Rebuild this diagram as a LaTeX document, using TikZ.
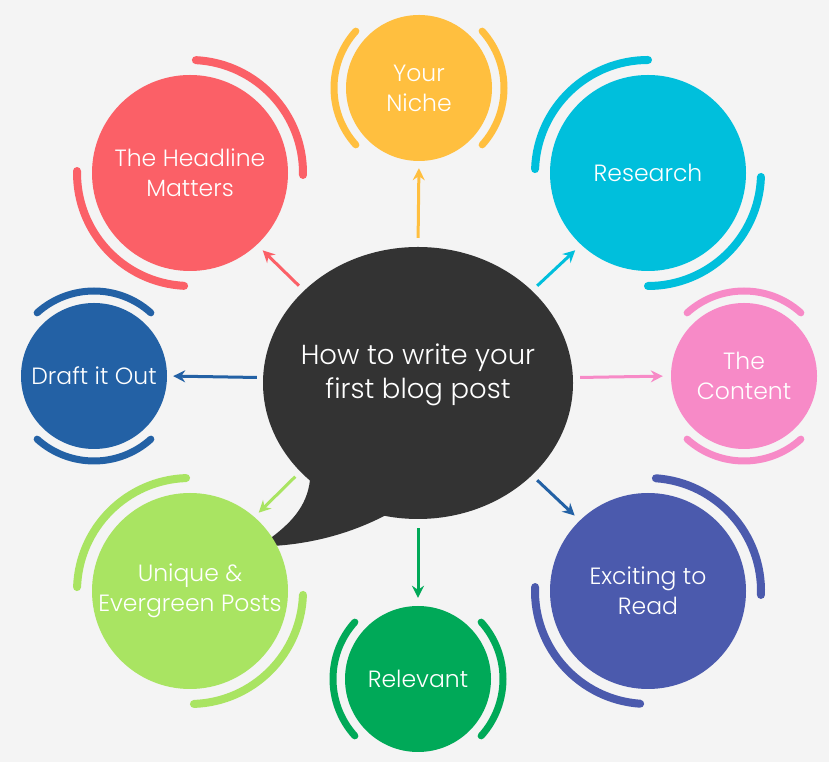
\documentclass[tikz,border=0pt]{standalone}
\usepackage{fontspec}
\setmainfont{Poppins}[UprightFont=* Light]
\usetikzlibrary{shapes.geometric, arrows.meta}

\definecolor{backdrop}{HTML}{F4F4F4}
\definecolor{bubblegray}{HTML}{333333}
\definecolor{niche}{HTML}{FFBF3F}
\definecolor{headline}{HTML}{FB6067}
\definecolor{research}{HTML}{00BFDC}
\definecolor{draft}{HTML}{2361A5}
\definecolor{content}{HTML}{F78AC7}
\definecolor{unique}{HTML}{A9E462}
\definecolor{relevant}{HTML}{00A958}
\definecolor{exciting}{HTML}{4B5AAD}

\begin{document}
\begin{tikzpicture}[x=1pt, y=1pt,
    topic/.style={circle, inner sep=0pt, text=white, align=center, font=\fontsize{23.5}{30}\selectfont},
    big/.style={topic, minimum size=196pt},
    small/.style={topic, minimum size=146pt},
    link/.style={line width=3pt, -{Stealth[length=12pt, width=12pt, inset=4pt]}},
    halo/.style={line width=#1, line cap=round}]

    \fill[backdrop] (0,0) rectangle (829,762);

    \fill[bubblegray] (310,282) .. controls (307,255) and (290,238) .. (268,222) .. controls (262,218) and (263,216) .. (272,216) .. controls (310,218) and (350,228) .. (386,247) -- (400,300) -- cycle;
    \node (bubble) [ellipse, fill=bubblegray, minimum width=310pt, minimum height=272pt, inner xsep=-20pt, inner ysep=0pt, text depth=24pt, text=white, align=center, font=\fontsize{27.5}{34}\selectfont] at (418,379) {How to write your\\first blog post};

    \node (niche) [small, fill=niche] at (419,674) {Your\\Niche};
    \node (headline) [big, fill=headline] at (190,589) {The Headline\\Matters};
    \node (research) [big, fill=research] at (648,589) {Research};
    \node (draft) [small, fill=draft] at (94,386) {Draft it Out};
    \node (content) [small, fill=content] at (744,386) {The\\Content};
    \node (unique) [big, fill=unique] at (190,171) {Unique \&\\Evergreen Posts};
    \node (relevant) [small, fill=relevant] at (418,83) {Relevant};
    \node (exciting) [big, fill=exciting] at (648,171) {Exciting to\\Read};

    \foreach \n/\m/\h/\r/\w in {niche/0/42/85/7pt, headline/43/44/113/8pt, research/134/44/113/8pt, draft/90/42/85/7pt, content/90/42/85/7pt, unique/135/43/113/8pt, relevant/0/42/85/7pt, exciting/42/44/113/8pt}
    \foreach \s in {0,180}
    \draw[halo=\w, \n] ([shift={({\m+\s-\h}:\r)}]\n.center) arc[start angle=\m+\s-\h, end angle=\m+\s+\h, radius=\r];

    \draw[link, niche, shorten <=9pt, shorten >=7pt] (bubble.90) -- (niche.270);
    \draw[link, headline, shorten <=7pt, shorten >=8pt] (bubble.141) -- (headline.313);
    \draw[link, research, shorten <=7pt, shorten >=8pt] (bubble.39) -- (research.227);
    \draw[link, draft, shorten <=6pt, shorten >=6pt] (bubble.178) -- (draft.0);
    \draw[link, content, shorten <=7pt, shorten >=8pt] (bubble.2) -- (content.180);
    \draw[link, unique, shorten <=7pt, shorten >=6pt] (bubble.217) -- (unique.49);
    \draw[link, relevant, shorten <=9pt, shorten >=8pt] (bubble.270) -- (relevant.90);
    \draw[link, draft, shorten <=7pt, shorten >=7pt] (bubble.321) -- (exciting.134);

\end{tikzpicture}
\end{document}
